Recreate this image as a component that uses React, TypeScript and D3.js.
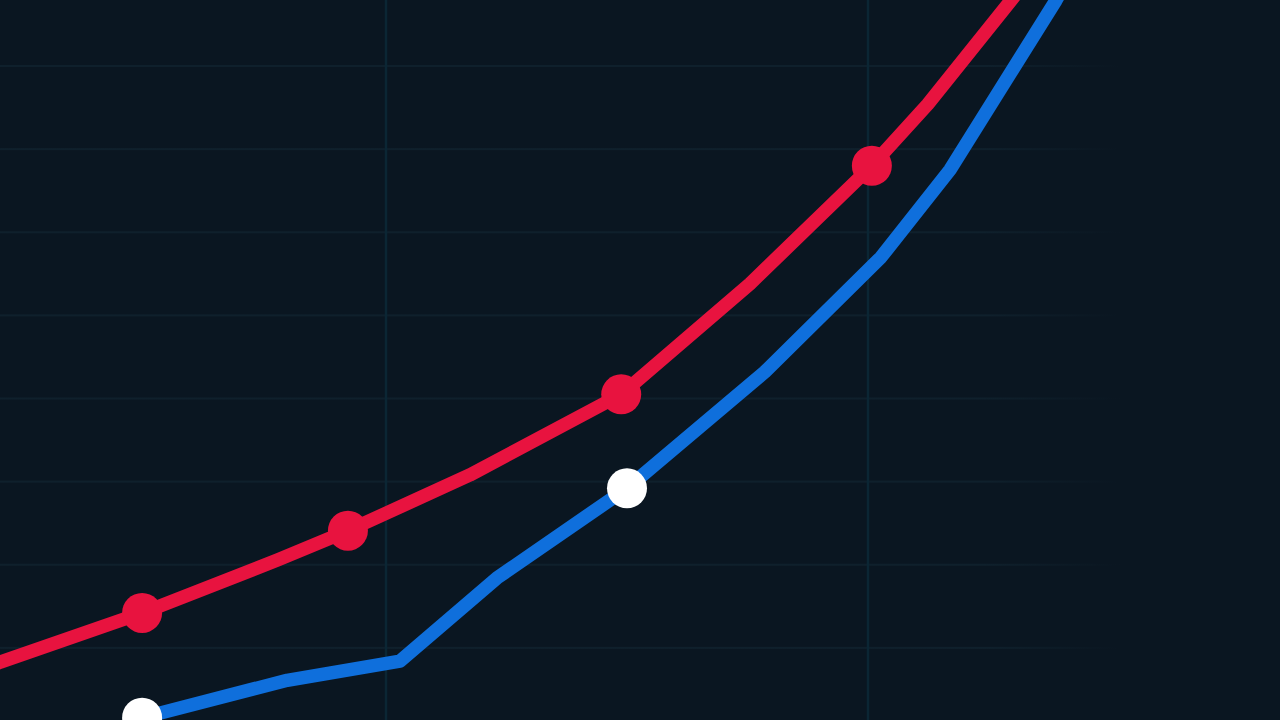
import React from "react";
import * as d3 from "d3";

const W = 1280;
const H = 720;

// x values in chart units, y values in chart units
const redX = [-9, -8.0, -5.06, -2.24, -0.79, 1.74, 4.88, 7.55, 10.08, 11.24, 13.05, 14.0];
const redY = [0.6, 0.83, 1.42, 2.06, 2.41, 3.08, 4.05, 5.38, 6.8, 7.54, 8.85, 9.64];
const redMarkers = [-5.06, -0.79, 4.88, 10.08];

const blueX = [-5.06, -2.05, 0.29, 2.3, 5.0, 7.86, 10.27, 11.7, 13.9, 14.6];
const blueY = [0.16, 0.61, 0.84, 1.84, 2.92, 4.32, 5.7, 6.75, 8.79, 9.52];
const blueMarkers = [-5.06, 5.0];

const xGrid = [-10, 0, 10, 20];
const yGrid = [0, 1, 2, 3, 4, 5, 6, 7, 8];

export default function App() {
  const x = d3.scaleLinear().domain([0, 10]).range([386, 868]);
  const y = d3.scaleLinear().domain([0, 8]).range([731, 66]);

  const redPts: [number, number][] = redX.map((v, i) => [v, redY[i]]);
  const bluePts: [number, number][] = blueX.map((v, i) => [v, blueY[i]]);
  const line = d3
    .line<[number, number]>()
    .x((d) => x(d[0]))
    .y((d) => y(d[1]));

  const interp = (xs: number[], ys: number[], v: number) => {
    for (let i = 0; i < xs.length - 1; i++) {
      if (v >= xs[i] && v <= xs[i + 1]) {
        const t = (v - xs[i]) / (xs[i + 1] - xs[i]);
        return ys[i] + t * (ys[i + 1] - ys[i]);
      }
    }
    return ys[0];
  };

  return (
    <svg
      width={W}
      height={H}
      style={{ position: "fixed", left: 0, top: 0, display: "block" }}
    >
      <defs>
        <linearGradient id="hfade" x1="0" x2="1" y1="0" y2="0">
          <stop offset="0" stopColor="#0f202c" stopOpacity="1" />
          <stop offset="0.88" stopColor="#0f202c" stopOpacity="1" />
          <stop offset="1" stopColor="#0f202c" stopOpacity="0" />
        </linearGradient>
      </defs>
      <rect x={0} y={0} width={W} height={H} fill="#0a1621" />
      {yGrid.map((g) => (
        <rect
          key={"h" + g}
          x={0}
          y={y(g) - 1}
          width={1120}
          height={2}
          fill="url(#hfade)"
        />
      ))}
      {xGrid.map((g) => (
        <line
          key={"v" + g}
          x1={x(g)}
          x2={x(g)}
          y1={0}
          y2={H}
          stroke="#0b2634"
          strokeWidth={2.5}
        />
      ))}
      <path
        d={line(bluePts) || ""}
        fill="none"
        stroke="#0f6fdc"
        strokeWidth={13.5}
        strokeLinejoin="round"
      />
      <path
        d={line(redPts) || ""}
        fill="none"
        stroke="#e8133f"
        strokeWidth={13.5}
        strokeLinejoin="round"
      />
      {redMarkers.map((m) => (
        <circle
          key={"r" + m}
          cx={x(m)}
          cy={y(interp(redX, redY, m))}
          r={20}
          fill="#e8133f"
        />
      ))}
      {blueMarkers.map((m) => (
        <circle
          key={"b" + m}
          cx={x(m)}
          cy={y(interp(blueX, blueY, m))}
          r={20}
          fill="#ffffff"
        />
      ))}
    </svg>
  );
}
